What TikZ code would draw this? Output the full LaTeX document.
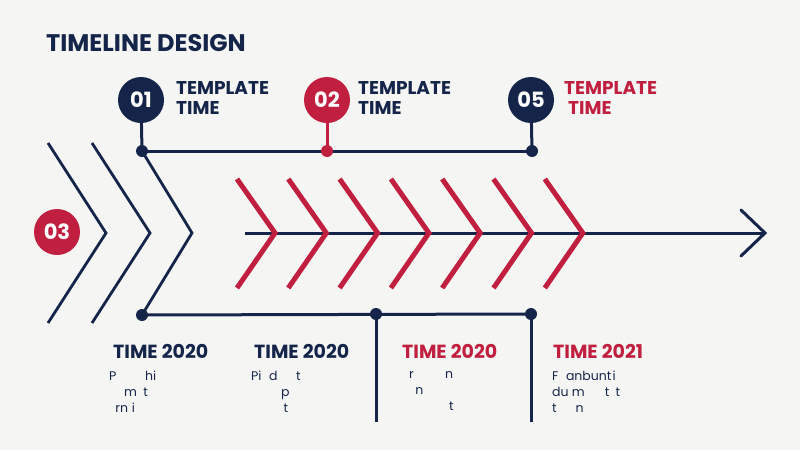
\documentclass[tikz,border=0pt]{standalone}
\usepackage{fontspec}
\setmainfont{Poppins}
\begin{document}
\begin{tikzpicture}[x=1pt,y=-1pt,
  navy/.style={draw=nv,line width=3pt},
  dot/.style={circle,fill=nv,inner sep=0pt,minimum size=12pt},
  badge/.style={circle,inner sep=0pt,minimum size=46pt,text=white,font=\bfseries\fontsize{21}{21}\selectfont},
  lbl/.style={anchor=west,align=left,font=\bfseries\fontsize{18.5}{19.5}\selectfont},
  tlbl/.style={anchor=west,font=\bfseries\fontsize{19}{20}\selectfont},
  small/.style={anchor=north west,align=left,font=\fontsize{12.5}{16}\selectfont,text=nv},
  redchev/.style={draw=rd,line width=5pt}]
\definecolor{nv}{HTML}{15254A}
\definecolor{rd}{HTML}{C01F3F}
\definecolor{bg}{HTML}{F5F5F3}
\fill[bg] (0,0) rectangle (800,450);
\useasboundingbox (0,0) rectangle (800,450);
\node[anchor=west,text=nv,font=\bfseries\fontsize{24}{26}\selectfont,inner sep=0pt] (title) at (46,43) {TIMELINE DESIGN};
% top structure
\coordinate (t1) at (142,151); \coordinate (t2) at (327,151); \coordinate (t3) at (532,151);
\draw[navy] (t1) -- (t3);
\node[badge,fill=nv] (b1) at (141,100) {01};
\node[badge,fill=rd] (b2) at (327,100) {02};
\node[badge,fill=nv] (b5) at (531,100) {05};
\draw[navy] (b1) -- (t1); \draw[draw=rd,line width=3pt] (b2) -- (t2); \draw[navy] (b5) -- (t3);
\node[dot] (d1) at (t1) {}; \node[dot,fill=rd] (d2) at (t2) {}; \node[dot] (d3) at (t3) {};
\node[lbl,text=nv,inner sep=0pt] (l1) at (176,98) {TEMPLATE\\TIME};
\node[lbl,text=nv,inner sep=0pt] (l2) at (358,98) {TEMPLATE\\TIME};
\node[lbl,text=rd,inner sep=0pt] (l5) at (564,98) {TEMPLATE\\\ TIME};
% chevrons left
\draw[navy,line width=2.8pt] (48,143) -- (106,233) -- (48,323);
\draw[navy,line width=2.8pt] (92,143) -- (150,233) -- (92,323);
\coordinate (m1) at (142,315); \coordinate (m2) at (376,314); \coordinate (m3) at (531,314);
\draw[navy,line width=2.8pt] (t1) -- (192,233) -- (m1);
\node[badge,fill=rd] (b3) at (57,232) {03};
% bottom
\draw[navy] (m1) -- (m3);
\coordinate (e2) at (376,422); \coordinate (e3) at (531,422);
\draw[navy] (m2) -- (e2); \draw[navy] (m3) -- (e3);
\node[dot] (n1) at (m1) {}; \node[dot] (n2) at (m2) {}; \node[dot] (n3) at (m3) {};
% arrow
\coordinate (as) at (245,233); \coordinate (ae) at (765,233);
\draw[navy] (as) -- (ae);
\draw[navy,line cap=round,line join=miter] (741,210) -- (ae) -- (741,256);
\foreach \i in {0,...,6}{
  \draw[redchev] ({237+51.3*\i},179) -- ({275+51.3*\i},233) -- ({237+51.3*\i},288);
}
% bottom labels
\node[tlbl,text=nv,inner sep=0pt] (y1) at (113,351) {TIME 2020};
\node[tlbl,text=nv,inner sep=0pt] (y2) at (254,351) {TIME 2020};
\node[tlbl,text=rd,inner sep=0pt] (y3) at (402,351) {TIME 2020};
\node[tlbl,text=rd,inner sep=0pt] (y4) at (553,351) {TIME 2021};
\node[small,inner sep=0pt] (s1) at (109,371) {P\hspace{2.3em}hi\\\hspace{1.2em}m\hspace{0.5em}t\\\hspace{0.5em}rn\hspace{0.3em}i};
\node[small,inner sep=0pt] (s2) at (251,371) {Pi\hspace{0.6em}d\hspace{1.5em}t\\\hspace{2.4em}p\\\hspace{2.6em}t};
\node[small,inner sep=0pt] (s3) at (409,371) {r\hspace{2.5em}n\\\hspace{0.5em}n\\\hspace{3.2em}t};
\node[small,inner sep=0pt] (s4) at (552,371) {F\hspace{0.6em}anbunt\hspace{0.1em}i\\du m\hspace{1.6em}t\hspace{0.5em}t\\t\hspace{1.5em}n};
\end{tikzpicture}
\end{document}
